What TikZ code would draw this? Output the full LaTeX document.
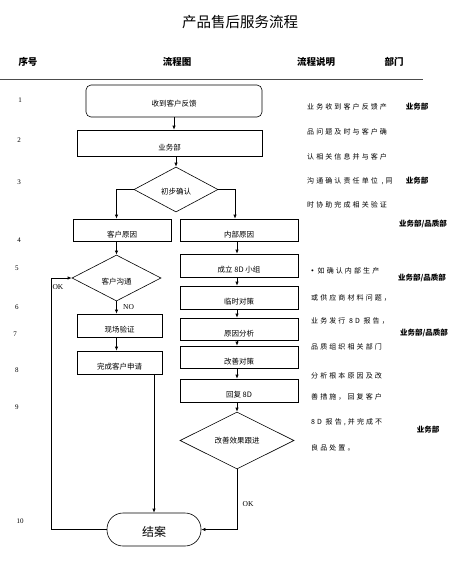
\documentclass[tikz,border=0pt]{standalone}
\usepackage{fontspec}
\usepackage{tikz}
\usetikzlibrary{shapes,arrows,positioning,calc,arrows.meta}
\newfontfamily\cjk{Noto Sans CJK SC}
\newfontfamily\cjkwide{Noto Sans CJK SC}[LetterSpace=30]
\newfontfamily\numfont{Liberation Serif}

\tikzset{
    procbox/.style={draw, line width=0.6pt, inner sep=0pt, minimum height=23pt, text height=15pt, text depth=0.5pt, font=\cjk\fontsize{7.5}{9}\selectfont},
    decide/.style={draw, diamond, aspect=2, line width=0.6pt, inner sep=0pt, text height=10pt, text depth=0.5pt, font=\cjk\fontsize{7.5}{9}\selectfont},
    flow/.style={line width=0.6pt, -{Latex[length=4pt,width=3.2pt]}},
    headtext/.style={font=\cjk\bfseries\fontsize{9.5}{11}\selectfont},
    numtext/.style={font=\numfont\fontsize{7}{8}\selectfont},
    oktext/.style={font=\numfont\fontsize{7.5}{9}\selectfont},
    desctext/.style={anchor=west, inner sep=0pt, font=\cjkwide\fontsize{7}{8}\selectfont},
    depttext/.style={font=\cjk\bfseries\fontsize{7.5}{9}\selectfont}
}

\begin{document}
\begin{tikzpicture}[x=1pt, y=-1pt]
    \useasboundingbox (0,0) rectangle (474,579);
    \node [font=\cjk\fontsize{14.5}{16}\selectfont] (title) at (240,22) {产品售后服务流程};

    % Header
    \foreach \x/\head in {28/序号, 177/流程图, 316/流程说明, 394/部门} {
        \node [headtext] (h\x) at (\x,62) {\head};
    }
    \draw [line width=1pt, black!70] (0,79) -- (423,79);

    % Row numbers
    \foreach \x/\y/\num in {20/100/1, 19/140/2, 19/182/3, 19/240/4, 17/268/5, 17/307/6, 15/334/7, 17/370/8, 17/407/9, 20/521/10} {
        \node [numtext] (n\num) at (\x,\y) {\num};
    }

    % Left column
    \node [procbox, rounded corners=5pt, minimum width=176pt, minimum height=32pt, text height=11pt] (recv) at (174,101) {收到客户反馈};
    \node [procbox, minimum width=185pt, minimum height=26pt] (biz) at (169.5,143) {业务部};
    \node [decide, minimum width=84pt, minimum height=45pt] (chk) at (176,189.5) {初步确认};
    \node [procbox, minimum width=98pt, minimum height=22pt] (cust) at (122,230) {客户原因};
    \node [decide, minimum width=89pt, minimum height=46pt, text height=13pt] (talk) at (116.5,278) {客户沟通};
    \node [procbox, minimum width=85pt] (site) at (119.5,325.5) {现场验证};
    \node [procbox, minimum width=85pt] (apply) at (119.5,362.5) {完成客户申请};

    % Right column
    \node [procbox, minimum width=118pt, minimum height=22pt] (inner) at (239,230) {内部原因};
    \node [procbox, minimum width=118pt] (g8d) at (239,265.5) {成立 8D 小组};
    \node [procbox, minimum width=118pt] (temp) at (239,297.5) {临时对策};
    \node [procbox, minimum width=118pt, minimum height=22pt] (cause) at (239,329) {原因分析};
    \node [procbox, minimum width=118pt, minimum height=22pt] (impr) at (239,357) {改善对策};
    \node [procbox, minimum width=118pt] (reply) at (239,390.5) {回复 8D};
    \node [decide, minimum width=114pt, minimum height=57pt, text height=7pt] (track) at (237,440.5) {改善效果跟进};

    \node [draw, line width=0.6pt, rounded corners=16pt, minimum width=94pt, minimum height=33pt, inner sep=0pt, text height=14pt, text depth=0.5pt, font=\cjk\fontsize{12}{14}\selectfont] (close) at (154,529.5) {结案};

    % Connectors
    \draw [flow] (recv) -- (recv |- biz.north);
    \draw [flow] (chk |- biz.south) -- (chk.north);
    \draw [flow] (chk.west) -| (talk |- cust.north);
    \draw [flow] (chk.east) -| ([xshift=-4pt]inner.north);
    \draw [flow] (talk |- cust.south) -- (talk.north);
    \draw [flow] (talk.south) -- (talk.south |- site.north) node [midway, right, xshift=3pt, oktext] {NO};
    \draw [flow] (talk |- site.south) -- (talk |- apply.north);
    \draw [flow] (apply.south -| close.north) -- (close.north);
    \coordinate (okturn) at (51,0);
    \draw [flow] (close.west) -- (close.west -| okturn) |- (talk.west);
    \node [oktext] (okleft) at (58,287) {OK};

    \draw [flow] (inner.south -| track) -- (g8d.north -| track);
    \draw [flow] (g8d.south -| track) -- (temp.north -| track);
    \draw [flow] (temp.south -| track) -- (cause.north -| track);
    \draw [flow] (cause.south -| track) -- (impr.north -| track);
    \draw [flow] (impr.south -| track) -- (reply.north -| track);
    \draw [flow] (reply.south -| track) -- (track.north);
    \draw [flow] (track.south) |- (close.east) node [pos=0.29, right, xshift=2pt, oktext] {OK};

    % Description
    \foreach \y/\line in {107/业务收到客户反馈产, 132/品问题及时与客户确, 157/认相关信息并与客户, 181/{沟通确认责任单位 ,同}, 205/时协助完成相关验证} {
        \node [desctext] at (307,\y) {\line};
    }
    \node [desctext] (bullet) at (311,271) {{\numfont\fontsize{8}{9}\selectfont\textbullet}\ 如确认内部生产};
    \foreach \y/\line in {298/或供应商材料问题，, 321/业务发行 8D 报告，, 347/品质组织相关部门, 376/分析根本原因及改, 397/善措施，回复客户, 422/{8D 报告,并完成不}, 448/良品处置。} {
        \node [desctext] at (311,\y) {\line};
    }

    % Departments
    \foreach \x/\y/\dept in {417/107/业务部, 417/181/业务部, 423/224/{业务部/品质部}, 422/278/{业务部/品质部}, 424/333/{业务部/品质部}, 428/430/业务部} {
        \node [depttext] at (\x,\y) {\dept};
    }
\end{tikzpicture}
\end{document}
